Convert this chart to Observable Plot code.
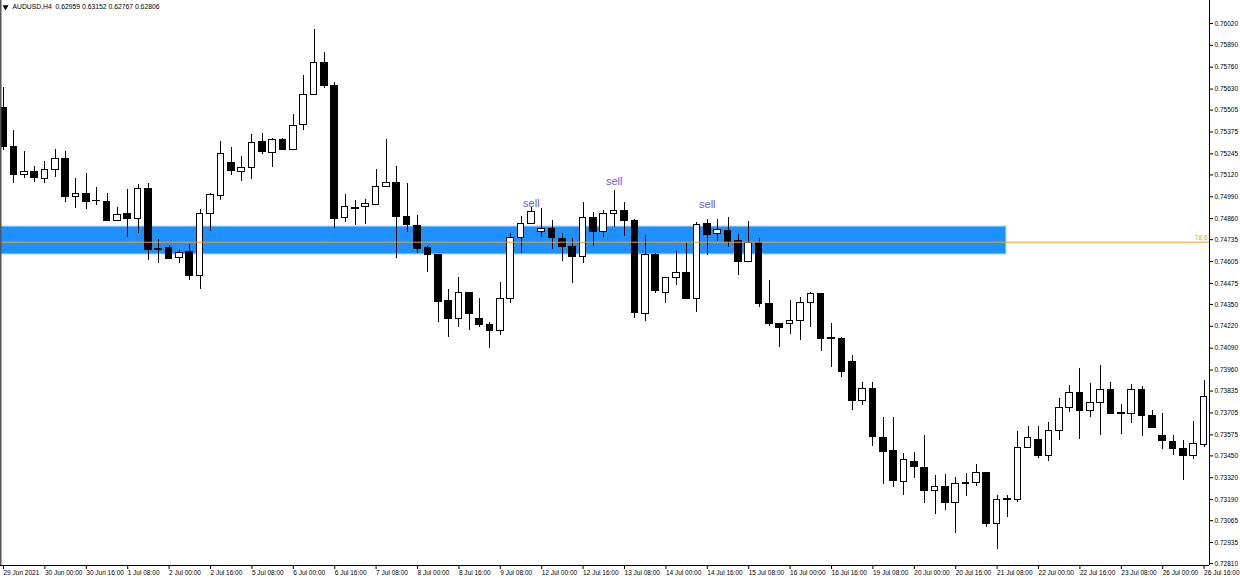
<!DOCTYPE html>
<html><head><meta charset="utf-8">
<script src="https://cdn.jsdelivr.net/npm/d3@7"></script>
<script src="https://cdn.jsdelivr.net/npm/@observablehq/plot@0.6"></script>
<style>
html,body{margin:0;padding:0;background:#fff;}
#chart svg{display:block;}
</style></head><body><div id="chart"></div>
<script>
const opens = [
0.75515,0.75285,0.75121,0.75140,0.75097,0.75148,0.75213,0.74986,0.75004,0.74965,
0.74960,0.74845,0.74885,0.74857,0.75037,0.74671,0.74684,0.74625,0.74659,0.74520,
0.74889,0.74996,0.75192,0.75139,0.75160,0.75313,0.75251,0.75325,0.75269,0.75418,
0.75596,0.75786,0.75647,0.74865,0.74919,0.74928,0.74944,0.75049,0.75071,0.74869,
0.74818,0.74684,0.74641,0.74368,0.74265,0.74417,0.74262,0.74229,0.74193,0.74384,
0.74746,0.74831,0.74778,0.74797,0.74740,0.74694,0.74631,0.74865,0.74778,0.74886,
0.74907,0.74849,0.74296,0.74645,0.74419,0.74508,0.74536,0.74385,0.74829,0.74768,
0.74785,0.74728,0.74601,0.74714,0.74354,0.74235,0.74231,0.74253,0.74357,0.74413,
0.74148,0.74146,0.74007,0.73775,0.73849,0.73559,0.73476,0.73296,0.73412,0.73379,
0.73242,0.73264,0.73171,0.73284,0.73286,0.73347,0.73046,0.73186,0.73185,0.73498,
0.73547,0.73450,0.73599,0.73736,0.73821,0.73716,0.73765,0.73840,0.73704,0.73700,
0.73843,0.73684,0.73569,0.73535,0.73490,0.73450,0.73512];
const highs = [
0.75640,0.75384,0.75259,0.75172,0.75200,0.75269,0.75259,0.75099,0.75127,0.75043,
0.75011,0.74925,0.75033,0.75063,0.75071,0.74734,0.74700,0.74677,0.74706,0.74913,
0.75010,0.75320,0.75281,0.75229,0.75358,0.75368,0.75335,0.75335,0.75477,0.75711,
0.75983,0.75846,0.75668,0.75004,0.74968,0.74974,0.75152,0.75330,0.75172,0.75067,
0.74879,0.74694,0.74641,0.74439,0.74508,0.74419,0.74387,0.74241,0.74482,0.74770,
0.74871,0.74925,0.74922,0.74851,0.74770,0.74740,0.74958,0.74898,0.74908,0.75026,
0.74958,0.74855,0.74760,0.74650,0.74512,0.74665,0.74714,0.74835,0.74853,0.74853,
0.74869,0.74766,0.74843,0.74744,0.74492,0.74237,0.74374,0.74393,0.74419,0.74417,
0.74235,0.74155,0.74047,0.73884,0.73884,0.73676,0.73680,0.73462,0.73470,0.73569,
0.73332,0.73339,0.73320,0.73347,0.73399,0.73353,0.73213,0.73213,0.73597,0.73623,
0.73625,0.73647,0.73789,0.73868,0.73968,0.73882,0.73987,0.73888,0.73754,0.73874,
0.73862,0.73720,0.73700,0.73569,0.73541,0.73656,0.73898];
const lows = [
0.75265,0.75069,0.75099,0.75077,0.75071,0.75103,0.74958,0.74922,0.74913,0.74936,
0.74841,0.74841,0.74750,0.74774,0.74611,0.74592,0.74619,0.74595,0.74492,0.74437,
0.74785,0.74968,0.75115,0.75081,0.75095,0.75241,0.75166,0.75265,0.75265,0.75384,
0.75592,0.75632,0.74800,0.74835,0.74819,0.74825,0.74940,0.75043,0.74621,0.74776,
0.74655,0.74538,0.74245,0.74155,0.74211,0.74195,0.74215,0.74086,0.74165,0.74357,
0.74655,0.74823,0.74750,0.74677,0.74604,0.74476,0.74595,0.74696,0.74750,0.74806,
0.74754,0.74265,0.74250,0.74413,0.74354,0.74463,0.74381,0.74304,0.74641,0.74726,
0.74690,0.74522,0.74599,0.74334,0.74219,0.74096,0.74171,0.74136,0.74215,0.74070,
0.73977,0.73914,0.73720,0.73748,0.73507,0.73278,0.73260,0.73214,0.73315,0.73165,
0.73100,0.73125,0.72990,0.73210,0.73270,0.73022,0.72892,0.73085,0.73175,0.73496,
0.73436,0.73417,0.73541,0.73708,0.73546,0.73680,0.73573,0.73694,0.73579,0.73644,
0.73565,0.73613,0.73490,0.73450,0.73304,0.73427,0.73502];
const closes = [
0.75283,0.75122,0.75140,0.75099,0.75148,0.75216,0.74986,0.75008,0.74958,0.74962,
0.74845,0.74883,0.74857,0.75037,0.74675,0.74681,0.74623,0.74657,0.74520,0.74885,
0.74999,0.75247,0.75142,0.75160,0.75311,0.75255,0.75329,0.75269,0.75412,0.75596,
0.75786,0.75651,0.74855,0.74932,0.74922,0.74946,0.75049,0.75073,0.74869,0.74821,
0.74681,0.74643,0.74363,0.74265,0.74417,0.74296,0.74227,0.74193,0.74384,0.74744,
0.74831,0.74898,0.74797,0.74744,0.74693,0.74631,0.74865,0.74778,0.74886,0.74907,
0.74849,0.74300,0.74645,0.74431,0.74507,0.74538,0.74385,0.74825,0.74762,0.74790,
0.74724,0.74601,0.74714,0.74354,0.74235,0.74209,0.74250,0.74357,0.74413,0.74146,
0.74143,0.73947,0.73779,0.73849,0.73561,0.73472,0.73299,0.73424,0.73381,0.73240,
0.73266,0.73171,0.73284,0.73288,0.73347,0.73046,0.73185,0.73191,0.73498,0.73555,
0.73450,0.73599,0.73736,0.73825,0.73716,0.73765,0.73843,0.73696,0.73700,0.73840,
0.73686,0.73617,0.73537,0.73490,0.73452,0.73519,0.73801];

const xLabels = ["29 Jun 2021","30 Jun 00:00","30 Jun 16:00","1 Jul 08:00","2 Jul 00:00","2 Jul 16:00",
"5 Jul 08:00","6 Jul 00:00","6 Jul 16:00","7 Jul 08:00","8 Jul 00:00","8 Jul 16:00","9 Jul 08:00",
"12 Jul 00:00","12 Jul 16:00","13 Jul 08:00","14 Jul 00:00","14 Jul 16:00","15 Jul 08:00","16 Jul 00:00",
"16 Jul 16:00","19 Jul 08:00","20 Jul 00:00","20 Jul 16:00","21 Jul 08:00","22 Jul 00:00","22 Jul 16:00",
"23 Jul 08:00","26 Jul 00:00","26 Jul 16:00"];
const xTickBars = xLabels.map((d, k) => k * 4);
const yTicks = [0.76020,0.75890,0.75760,0.75630,0.75505,0.75375,0.75245,0.75120,0.74990,0.74860,
0.74735,0.74605,0.74475,0.74350,0.74220,0.74090,0.73960,0.73835,0.73705,0.73575,0.73450,0.73320,
0.73190,0.73065,0.72935,0.72810];

const zoneBars = [-0.3, 96.9];
const zonePrices = [0.74647, 0.74813];
const fibLevels = [0.74720];
const fibLabels = ["78.6"];
const sellBars = [51, 59, 68];
const sellPrices = [0.74950, 0.75081, 0.74944];
const headerText = ["AUDUSD,H4  0.62959 0.63152 0.62767 0.62806"];

const bars = opens.map((o, i) => ({i, open: o, high: highs[i], low: lows[i], close: closes[i]}));
const bulls = bars.filter(d => d.close >= d.open);
const bears = bars.filter(d => d.close < d.open);
const sells = sellBars.map((b, k) => ({bar: b, price: sellPrices[k]}));

const xDomain = [-0.29, 116.52];
const yDomain = [0.727983, 0.761567];
const fontFam = "'Liberation Sans', Arial, sans-serif";

const chart = Plot.plot({
  width: 1240, height: 578,
  marginLeft: 0, marginRight: 31, marginTop: 0, marginBottom: 13,
  style: {fontFamily: fontFam, fontSize: "6.5px", background: "#fff", color: "#000"},
  x: {domain: xDomain},
  y: {domain: yDomain},
  marks: [
    Plot.rect([0], {x1: zoneBars[0], x2: zoneBars[1], y1: zonePrices[0], y2: zonePrices[1], fill: "#1e90ff", stroke: "#a8d4ff", strokeWidth: 1}),
    Plot.ruleX(bars, {x: "i", y1: "low", y2: "high", stroke: "#000", strokeWidth: 1, shapeRendering: "crispEdges"}),
    Plot.rect(bulls, {x1: d => d.i - 0.32, x2: d => d.i + 0.32, y1: "open", y2: "close", fill: "#fff", stroke: "#000", strokeWidth: 1, shapeRendering: "crispEdges"}),
    Plot.rect(bears, {x1: d => d.i - 0.32, x2: d => d.i + 0.32, y1: "open", y2: "close", fill: "#000", stroke: "#000", strokeWidth: 1, shapeRendering: "crispEdges"}),
    Plot.ruleY(fibLevels, {stroke: "#f5a020", strokeWidth: 1}),
    Plot.text(fibLevels, {y: d => d, text: (d, k) => fibLabels[k], frameAnchor: "right", textAnchor: "end", dx: -2, dy: -4, fill: "#f5a020", fontSize: 6.5}),
    Plot.text(sells, {x: "bar", y: "price", text: () => "sell", fill: "#6a5ae0", fontSize: 11}),
    Plot.ruleX([xDomain[1]], {stroke: "#000", strokeWidth: 1}),
    Plot.ruleY([yDomain[0]], {stroke: "#000", strokeWidth: 1}),
    Plot.ruleX([xDomain[0]], {stroke: "#555", strokeWidth: 2}),
    Plot.axisY({ticks: yTicks, anchor: "right", tickFormat: d3.format(".5f"), tickSize: 3, tickPadding: 2, fontSize: 6.5, fill: "#000", stroke: "#000"}),
    Plot.axisX({ticks: xTickBars, tickFormat: d => xLabels[d / 4], tickSize: 4, tickPadding: 1, textAnchor: "start", dx: 0, fontSize: 6.5, fill: "#000", stroke: "#000"}),
    Plot.dot([0], {frameAnchor: "top-left", dx: 5, dy: 6.5, symbol: "triangle", r: 2.2, rotate: 180, fill: "#000", stroke: "none"}),
    Plot.text(headerText, {frameAnchor: "top-left", dx: 12, dy: 6.5, textAnchor: "start", lineAnchor: "middle", text: d => d, fontSize: 6.8, fill: "#000"})
  ]
});
document.getElementById("chart").appendChild(chart);
</script>
</body></html>
